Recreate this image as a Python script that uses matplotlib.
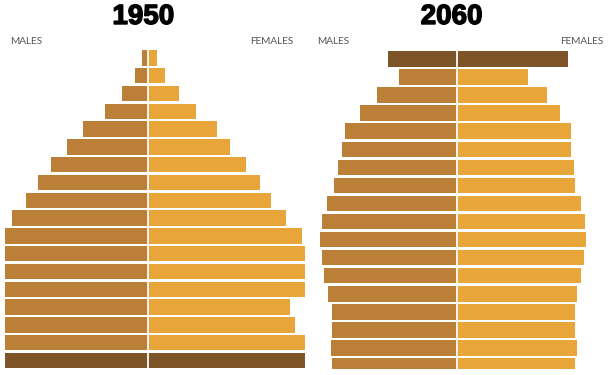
import matplotlib
matplotlib.use("Agg")
import matplotlib.pyplot as plt
import matplotlib.patheffects as pe
import numpy as np

# Age groups from oldest (top) to youngest (bottom)
age_groups = ["85+", "80-84", "75-79", "70-74", "65-69", "60-64", "55-59", "50-54",
              "45-49", "40-44", "35-39", "30-34", "25-29", "20-24", "15-19",
              "10-14", "5-9", "0-4"]

males_1950 = [6, 13.6, 26.6, 43.6, 65.3, 81.3, 97.3, 110.6, 122.6, 136.6,
              143.3, 143.3, 143.3, 143.3, 143.3, 143.3, 143.3, 143.3]
females_1950 = [9, 16.4, 30.7, 47.7, 69, 81.4, 97.4, 111.4, 122.7, 137.7,
                153.7, 156.4, 156.4, 156.4, 141.7, 147, 156.4, 156.4]

males_2060 = [68.7, 57.7, 79.7, 97, 111.4, 114.4, 118.4, 122.7, 129.4, 134.4,
              136.4, 134.4, 132.7, 128.7, 125, 125, 125.7, 125]
females_2060 = [111.3, 71.6, 90, 103.6, 114, 114, 117, 118.6, 124.6, 128.3,
                129.3, 127.3, 124.6, 120.6, 118.6, 118.6, 120, 118.6]

titles = ["1950", "2060"]
highlight = [17, 0]  # index of the dark (highlighted) bar in each panel

MALE_C = "#BC7F38"
FEMALE_C = "#E8A53A"
DARK_C = "#7E5528"

W, H = 615, 375
fig = plt.figure(figsize=(W / 100, H / 100), dpi=100)
fig.patch.set_facecolor("white")


def px_axes(x0, x1, y0, y1):
    return fig.add_axes([x0 / W, 1 - y1 / H, (x1 - x0) / W, (y1 - y0) / H])


# panel geometry in pixels: (left, right, center, top_of_first_slot, pitch, bottom)
panels = [
    (5, 305, 148.3, 48.95, 17.8, 369.4),
    (310, 615, 456.7, 49.97, 18.06, 368.5),
]
data = [(males_1950, females_1950), (males_2060, females_2060)]

n = len(age_groups)
idx = np.arange(n)
for p, ((x0, x1, xc, ytop, pitch, ybot), (m, f)) in enumerate(zip(panels, data)):
    ax = px_axes(x0, x1, ytop, ybot)
    ax.set_xlim(x0 - xc, x1 - xc)
    ybottom_lim = -0.5 + (ybot - ytop) / pitch
    ax.set_ylim(ybottom_lim, -0.5)
    mc = [DARK_C if i == highlight[p] else MALE_C for i in idx]
    fc = [DARK_C if i == highlight[p] else FEMALE_C for i in idx]
    ax.barh(idx, -np.array(m), height=0.86, color=mc, linewidth=0)
    ax.barh(idx, np.array(f), height=0.86, color=fc, linewidth=0)
    ax.axvline(0, color="white", lw=1.3)
    ax.axis("off")

    # titles
    fig.text((xc - 5) / W, 1 - 17 / H, titles[p],
             ha="center", va="center", fontsize=20, fontweight="bold",
             family="Liberation Sans", color="black",
             path_effects=[pe.withStroke(linewidth=1.0, foreground="black")])

label_kw = dict(va="center", fontsize=7.2, family="Lato", color="#555555")
fig.text(10 / W, 1 - 41 / H, "MALES", ha="left", **label_kw)
fig.text(293 / W, 1 - 41 / H, "FEMALES", ha="right", **label_kw)
fig.text(316.7 / W, 1 - 41 / H, "MALES", ha="left", **label_kw)
fig.text(603.3 / W, 1 - 41 / H, "FEMALES", ha="right", **label_kw)

fig.savefig("out.png", dpi=100, facecolor="white")
